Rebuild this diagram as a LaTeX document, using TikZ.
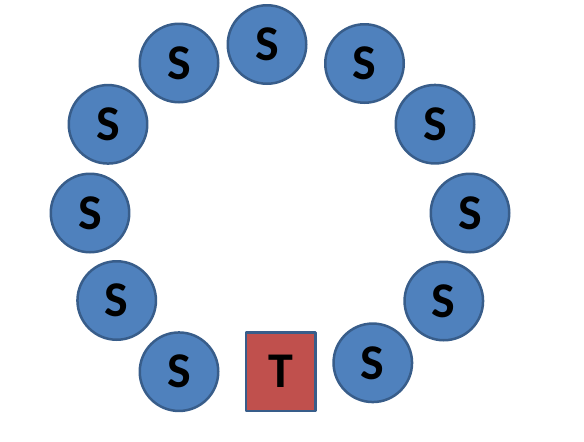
\documentclass[tikz,border=0pt]{standalone}
\usepackage{fontspec}
\setmainfont{Carlito}
\usepackage{tikz}
\definecolor{sfill}{rgb}{0.30980392156862746,0.5058823529411764,0.7411764705882353}
\definecolor{sline}{rgb}{0.2196078431372549,0.36470588235294116,0.5411764705882353}
\definecolor{tfill}{rgb}{0.7529411764705882,0.3137254901960784,0.30196078431372547}
\tikzstyle{every node}=[font=\fontsize{50}{60}\selectfont\bfseries]
\tikzset{station/.style={circle,draw=sline,fill=sfill,line width=2.5pt,minimum size=78.5pt,inner sep=0pt},
  target/.style={rectangle,draw=sline,fill=tfill,line width=2.5pt,minimum width=69.5pt,minimum height=78.5pt,inner sep=0pt}}
\begin{document}
\begin{tikzpicture}[line cap=round,line join=round,x=1pt,y=-1pt]
            \useasboundingbox (0,0) rectangle (584,442);
            \node[station] (s1) at (267,44.5) {S};
            \node[station] (s2) at (179,63) {S};
            \node[station] (s3) at (364.5,63.5) {S};
            \node[station] (s4) at (108,124.3) {S};
            \node[station] (s5) at (435,124.2) {S};
            \node[station] (s6) at (90,213) {S};
            \node[station] (s7) at (470,213) {S};
            \node[station] (s8) at (116.7,300.5) {S};
            \node[station] (s9) at (443.8,301) {S};
            \node[station] (s10) at (179,371.7) {S};
            \node[station] (s11) at (372.8,362.8) {S};
            \node[target] (t) at (280.5,371.7) {T};
        \end{tikzpicture}
\end{document}
